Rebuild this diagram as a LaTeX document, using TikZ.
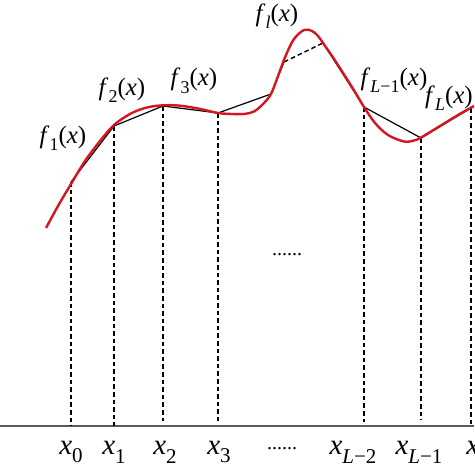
\documentclass[tikz,border=0pt]{standalone}
\usepackage{fontspec}
\setmainfont{Liberation Serif}
\definecolor{curvered}{RGB}{212,22,30}
\definecolor{axisgray}{RGB}{90,90,90}
\newcommand\tsub[1]{\raisebox{-0.3em}{\fontsize{9}{9}\selectfont #1}}
\newcommand\bsub[1]{\raisebox{-0.3em}{\fontsize{10.5}{10.5}\selectfont #1}}
\begin{document}
\begin{tikzpicture}[x=0.5pt,y=-0.5pt,
  flab/.style={font=\fontsize{12.5}{14}\selectfont, inner sep=0pt},
  xlab/.style={font=\fontsize{14.5}{16}\selectfont, inner sep=0pt},
  dotlab/.style={font=\fontsize{10}{10}\selectfont, inner sep=0pt},
  chord/.style={line width=0.6pt},
  drop/.style={line width=0.7pt, dash pattern=on 2.3pt off 1.5pt},
  fitcurve/.style={curvered, line width=1.2pt},
  axisline/.style={axisgray, line width=0.7pt}]
\useasboundingbox (0,0) rectangle (474,474);
\clip (0,0) rectangle (474,474);
% sample points
\coordinate (p0) at (71,182);
\coordinate (p1) at (114,126);
\coordinate (p2) at (163,106);
\coordinate (p3) at (218,113);
\coordinate (q) at (271,94);
\coordinate (m) at (284,62);
\coordinate (r) at (323,43);
\coordinate (pL2) at (364,107);
\coordinate (pL1) at (421,138);
\coordinate (pL) at (471,108);
% feet
\coordinate (f0) at (71,426);
\coordinate (f1) at (114,426);
\coordinate (f2) at (163,421);
\coordinate (f3) at (218,421);
\coordinate (fL2) at (364,422);
\coordinate (fL1) at (421,420);
\coordinate (fL) at (471,426);
\coordinate (axl) at (0,426);
\coordinate (axr) at (474,426);
% axis
\draw[axisline] (axl) -- (axr);
% drops
\foreach \a/\b in {p0/f0,p1/f1,p2/f2,p3/f3,pL2/fL2,pL1/fL1,pL/fL}
  \draw[drop] (\a) -- (\b);
% chords
\draw[chord] (p0) -- (p1) -- (p2) -- (p3) -- (q) -- (m);
\draw[drop] (m) -- (r);
\draw[chord] (r) -- (pL2) -- (pL1) -- (pL);
% red curve
\draw[fitcurve] plot[smooth, tension=0.55] coordinates {
 (46,228) (58,206) (71,184) (85,161) (100,141) (114,125) (130,114) (145,108)
 (160,105.5) (178,105.5) (198,108.5) (218,113) (232,114) (244,114) (254,111.5)
 (263,104) (271,94) (278,76) (286,55) (294,39) (304,30) (312,31) (318,36)
 (323,43) (334,59) (345,76) (355,92) (364,107) (375,123) (388,135) (404,141.5)
 (414,140.5) (421,137.5) (440,126) (458,115) (474,106)};
% function labels
\node[flab] (l1) at (63,138) {\textit{f}\tsub{1}(\textit{x})};
\node[flab] (l2) at (122,90) {\textit{f}\tsub{2}(\textit{x})};
\node[flab] (l3) at (194,81) {\textit{f}\tsub{3}(\textit{x})};
\node[flab] (ll) at (277,16) {\textit{f}\tsub{\textit{l}}(\textit{x})};
\node[flab] (lL1) at (394,80) {\textit{f}\tsub{\textit{L}−1}(\textit{x})};
\node[flab] (lL) at (449,98) {\textit{f}\tsub{\textit{L}}(\textit{x})};
\node[dotlab] (mdots) at (287,255) {......};
% axis labels
\node[xlab] (x0) at (71,452) {\textit{x}\bsub{0}};
\node[xlab] (x1) at (114,452) {\textit{x}\bsub{1}};
\node[xlab] (x2) at (165,452) {\textit{x}\bsub{2}};
\node[xlab] (x3) at (219,452) {\textit{x}\bsub{3}};
\node[dotlab] (bdots) at (282,449) {......};
\node[xlab] (xL2) at (353,452) {\textit{x}\bsub{\textit{L}−2}};
\node[xlab] (xL1) at (419,452) {\textit{x}\bsub{\textit{L}−1}};
\node[xlab, anchor=west] (xL) at (466,452) {\textit{x}\bsub{\textit{L}}};
\end{tikzpicture}
\end{document}
